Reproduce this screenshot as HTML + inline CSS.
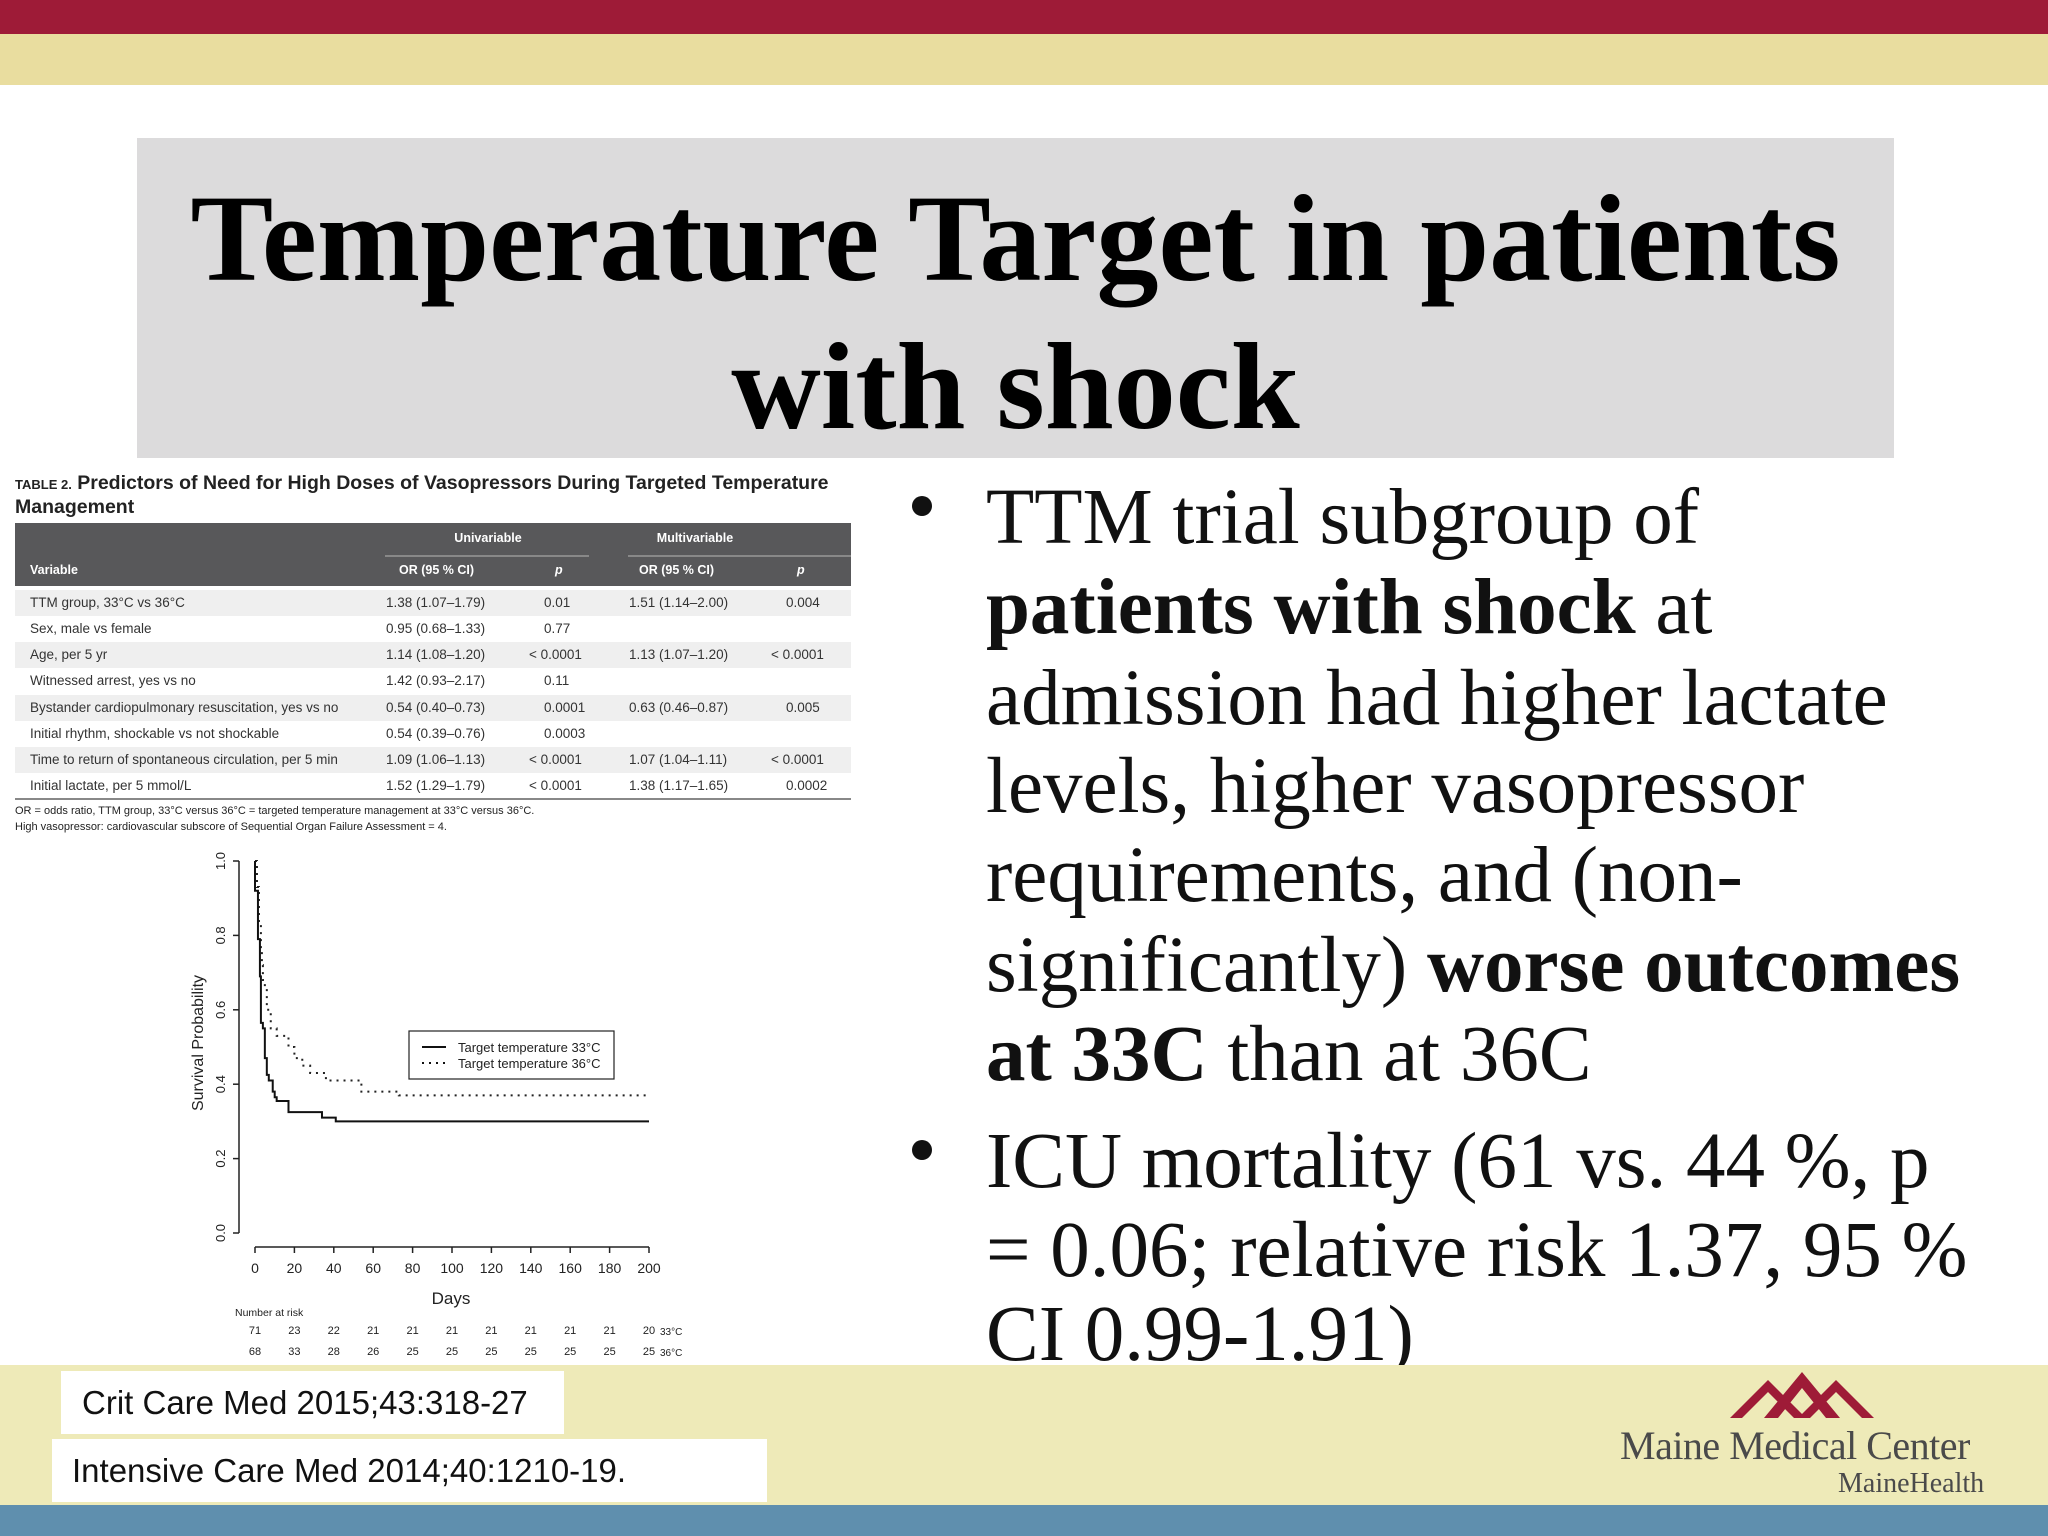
<!DOCTYPE html>
<html><head><meta charset="utf-8"><style>
body{margin:0;width:2048px;height:1536px;position:relative;overflow:hidden;background:#fff;font-family:"Liberation Sans",sans-serif}
.a{position:absolute}
.bl{position:absolute;left:986px;font-family:"Liberation Serif",serif;font-size:79px;line-height:90px;white-space:nowrap;color:#111}
.row{position:absolute;left:15px;width:836px;height:26px;font-size:13.5px;color:#333;line-height:26px}
.row span{position:absolute;white-space:nowrap}
.sh{background:#efefef}
</style></head><body>
<div class="a" style="left:0;top:0;width:2048px;height:34px;background:#9e1b37"></div>
<div class="a" style="left:0;top:34px;width:2048px;height:51px;background:#e9dd9f"></div>
<div class="a" style="left:137px;top:138px;width:1757px;height:320px;background:#dcdbdc"></div>
<div class="a" style="left:137px;top:165px;width:1757px;text-align:center;font-family:'Liberation Serif',serif;font-weight:bold;font-size:124px;line-height:148px;color:#000;white-space:nowrap">Temperature Target in patients<br>with shock</div>

<div class="a" style="left:15px;top:472px;font-size:19.5px;font-weight:bold;line-height:22px;color:#222;width:850px"><span style="font-size:13px">TABLE 2.</span> Predictors of Need for High Doses of Vasopressors During Targeted Temperature Management</div>
<div class="a" style="left:15px;top:523px;width:836px;height:63px;background:#58585a;color:#fff;font-weight:bold;font-size:12.5px">
<span class="a" style="left:435px;top:8px;width:76px;text-align:center">Univariable</span>
<span class="a" style="left:660px;top:8px;width:80px;text-align:center;margin-left:-20px">Multivariable</span>
<div class="a" style="left:370px;top:32px;width:204px;height:2px;background:#888"></div>
<div class="a" style="left:613px;top:32px;width:223px;height:2px;background:#888"></div>
<span class="a" style="left:15px;top:40px">Variable</span>
<span class="a" style="left:384px;top:40px">OR (95 % CI)</span>
<span class="a" style="left:540px;top:40px;font-style:italic">p</span>
<span class="a" style="left:624px;top:40px">OR (95 % CI)</span>
<span class="a" style="left:782px;top:40px;font-style:italic">p</span>
</div>
<div>
<div class="row sh" style="top:590px"><span style="left:15px">TTM group, 33°C vs 36°C</span><span style="left:371px">1.38 (1.07–1.79)</span><span style="left:529px">0.01</span><span style="left:614px">1.51 (1.14–2.00)</span><span style="left:771px">0.004</span></div>
<div class="row" style="top:616px"><span style="left:15px">Sex, male vs female</span><span style="left:371px">0.95 (0.68–1.33)</span><span style="left:529px">0.77</span></div>
<div class="row sh" style="top:642px"><span style="left:15px">Age, per 5 yr</span><span style="left:371px">1.14 (1.08–1.20)</span><span style="left:514px">&lt; 0.0001</span><span style="left:614px">1.13 (1.07–1.20)</span><span style="left:756px">&lt; 0.0001</span></div>
<div class="row" style="top:668px"><span style="left:15px">Witnessed arrest, yes vs no</span><span style="left:371px">1.42 (0.93–2.17)</span><span style="left:529px">0.11</span></div>
<div class="row sh" style="top:695px"><span style="left:15px">Bystander cardiopulmonary resuscitation, yes vs no</span><span style="left:371px">0.54 (0.40–0.73)</span><span style="left:529px">0.0001</span><span style="left:614px">0.63 (0.46–0.87)</span><span style="left:771px">0.005</span></div>
<div class="row" style="top:721px"><span style="left:15px">Initial rhythm, shockable vs not shockable</span><span style="left:371px">0.54 (0.39–0.76)</span><span style="left:529px">0.0003</span></div>
<div class="row sh" style="top:747px"><span style="left:15px">Time to return of spontaneous circulation, per 5 min</span><span style="left:371px">1.09 (1.06–1.13)</span><span style="left:514px">&lt; 0.0001</span><span style="left:614px">1.07 (1.04–1.11)</span><span style="left:756px">&lt; 0.0001</span></div>
<div class="row" style="top:773px"><span style="left:15px">Initial lactate, per 5 mmol/L</span><span style="left:371px">1.52 (1.29–1.79)</span><span style="left:514px">&lt; 0.0001</span><span style="left:614px">1.38 (1.17–1.65)</span><span style="left:771px">0.0002</span></div>
<div class="a" style="left:15px;top:798px;width:836px;height:2px;background:#888"></div>
</div>
<div class="a" style="left:15px;top:803px;font-size:11px;line-height:16px;color:#222">OR = odds ratio, TTM group, 33°C versus 36°C = targeted temperature management at 33°C versus 36°C.<br>High vasopressor: cardiovascular subscore of Sequential Organ Failure Assessment = 4.</div>

<svg class="a" style="left:0;top:0" width="2048" height="1536" id="km"></svg>

<div>
<div class="a" style="left:912px;top:496px;width:20px;height:20px;border-radius:50%;background:#111"></div>
<div class="bl" style="top:473px">TTM trial subgroup of</div>
<div class="bl" style="top:563px"><b>patients with shock</b> at</div>
<div class="bl" style="top:654px">admission had higher lactate</div>
<div class="bl" style="top:742px">levels, higher vasopressor</div>
<div class="bl" style="top:831px">requirements, and (non-</div>
<div class="bl" style="top:921px">significantly) <b>worse outcomes</b></div>
<div class="bl" style="top:1010px"><b>at 33C</b> than at 36C</div>
<div class="a" style="left:912px;top:1140px;width:20px;height:20px;border-radius:50%;background:#111"></div>
<div class="bl" style="top:1117px">ICU mortality (61 vs. 44 %, p</div>
<div class="bl" style="top:1206px">= 0.06; relative risk 1.37, 95 %</div>
<div class="bl" style="top:1290px">CI 0.99-1.91)</div>
</div>

<div class="a" style="left:0;top:1365px;width:2048px;height:140px;background:#eeeab8"></div>
<div class="a" style="left:0;top:1505px;width:2048px;height:31px;background:#5f8fae"></div>
<div class="a" style="left:61px;top:1371px;width:503px;height:63px;background:#fff;font-size:33px;line-height:63px;text-indent:21px;color:#111">Crit Care Med 2015;43:318-27</div>
<div class="a" style="left:52px;top:1439px;width:715px;height:63px;background:#fff;font-size:33px;line-height:63px;text-indent:20px;color:#111">Intensive Care Med 2014;40:1210-19.</div>
<svg class="a" style="left:1730px;top:1372px" width="145" height="46">
<polygon points="0,46 38,8 76,46 64,46 38,20 12,46" fill="#9e1b37"/>
<polygon points="34,46 72,0 110,46 96,46 72,16 48,46" fill="#9e1b37"/>
<polygon points="68,46 106,8 144,46 132,46 106,20 80,46" fill="#9e1b37"/>
</svg>
<div class="a" style="left:1620px;top:1422px;font-family:'Liberation Serif',serif;font-size:40px;color:#4a4a4a;white-space:nowrap;letter-spacing:-0.5px">Maine Medical Center</div>
<div class="a" style="left:1838px;top:1468px;font-family:'Liberation Serif',serif;font-size:28px;color:#4a4a4a">MaineHealth</div>

<script>
const xTicks=[0,20,40,60,80,100,120,140,160,180,200];
const yTicks=[0.0,0.2,0.4,0.6,0.8,1.0];
const t33=[0,0,1.5,2.5,3,4,5,6,7,9,10,11,17,34,41,200];
const s33=[1.0,0.92,0.79,0.69,0.565,0.55,0.47,0.425,0.41,0.38,0.365,0.355,0.325,0.31,0.30,0.30];
const t36=[0,1,2,3,3.5,4,5,6,8,11,17,20,24,28,36,54,73,200];
const s36=[1.0,0.93,0.83,0.76,0.72,0.68,0.66,0.6,0.55,0.53,0.5,0.47,0.45,0.43,0.41,0.38,0.37,0.37];
const risk33=[71,23,22,21,21,21,21,21,21,21,20];
const risk36=[68,33,28,26,25,25,25,25,25,25,25];
const X=d=>255+d*(649-255)/200, Y=v=>1233-v*(1233-861);
const svg=document.getElementById('km'),NS='http://www.w3.org/2000/svg';
function mk(t,a,txt){const e=document.createElementNS(NS,t);for(const k in a)e.setAttribute(k,a[k]);if(txt!==undefined)e.textContent=txt;svg.appendChild(e);return e;}
let e;
e=mk('line',{x1:239,y1:Y(0),x2:239,y2:Y(1),stroke:'#222','stroke-width':1.5});

yTicks.forEach(v=>{mk('line',{x1:233,x2:239,y1:Y(v),y2:Y(v),stroke:'#222','stroke-width':1.5});
 e=mk('text',{x:0,y:0,transform:`translate(225,${Y(v)}) rotate(-90)`,'text-anchor':'middle','font-size':13,fill:'#222','font-family':'Liberation Sans'},v.toFixed(1));
 });
e=mk('line',{x1:X(0),y1:1247,x2:X(200),y2:1247,stroke:'#222','stroke-width':1.5});

xTicks.forEach((d,i)=>{mk('line',{x1:X(d),x2:X(d),y1:1247,y2:1253,stroke:'#222','stroke-width':1.5});
 e=mk('text',{x:X(d),y:1273,'text-anchor':'middle','font-size':14,fill:'#222','font-family':'Liberation Sans'},String(d));
 
 e=mk('text',{x:X(d),y:1334,'text-anchor':'middle','font-size':11,fill:'#222','font-family':'Liberation Sans'},String(risk33[i]));
 
 e=mk('text',{x:X(d),y:1355,'text-anchor':'middle','font-size':11,fill:'#222','font-family':'Liberation Sans'},String(risk36[i]));
 });
e=mk('text',{x:0,y:0,transform:'translate(203,1043) rotate(-90)','text-anchor':'middle','font-size':16,fill:'#222','font-family':'Liberation Sans'},'Survival Probability');

e=mk('text',{x:451,y:1304,'text-anchor':'middle','font-size':17,fill:'#222','font-family':'Liberation Sans'},'Days');

e=mk('text',{x:235,y:1316,'font-size':10.5,fill:'#222','font-family':'Liberation Sans'},'Number at risk');

e=mk('text',{x:660,y:1335,'font-size':10,fill:'#222','font-family':'Liberation Sans'},'33°C');

e=mk('text',{x:660,y:1356,'font-size':10,fill:'#222','font-family':'Liberation Sans'},'36°C');

function step(t,s){let d=`M${X(t[0])},${Y(s[0])}`;for(let i=1;i<t.length;i++){d+=` H${X(t[i])} V${Y(s[i])}`;}return d;}
e=mk('path',{d:step(t36,s36),fill:'none',stroke:'#222','stroke-width':2,'stroke-dasharray':'2,5'});

e=mk('path',{d:step(t33,s33),fill:'none',stroke:'#111','stroke-width':2});

e=mk('rect',{x:409,y:1031,width:205,height:48,fill:'#fff',stroke:'#222','stroke-width':1.2});

mk('line',{x1:422,x2:446,y1:1047,y2:1047,stroke:'#111','stroke-width':2});
mk('line',{x1:422,x2:446,y1:1063,y2:1063,stroke:'#111','stroke-width':2,'stroke-dasharray':'2,5'});
e=mk('text',{x:458,y:1052,'font-size':13,fill:'#222','font-family':'Liberation Sans'},'Target temperature 33°C');

e=mk('text',{x:458,y:1068,'font-size':13,fill:'#222','font-family':'Liberation Sans'},'Target temperature 36°C');

</script>
</body></html>
